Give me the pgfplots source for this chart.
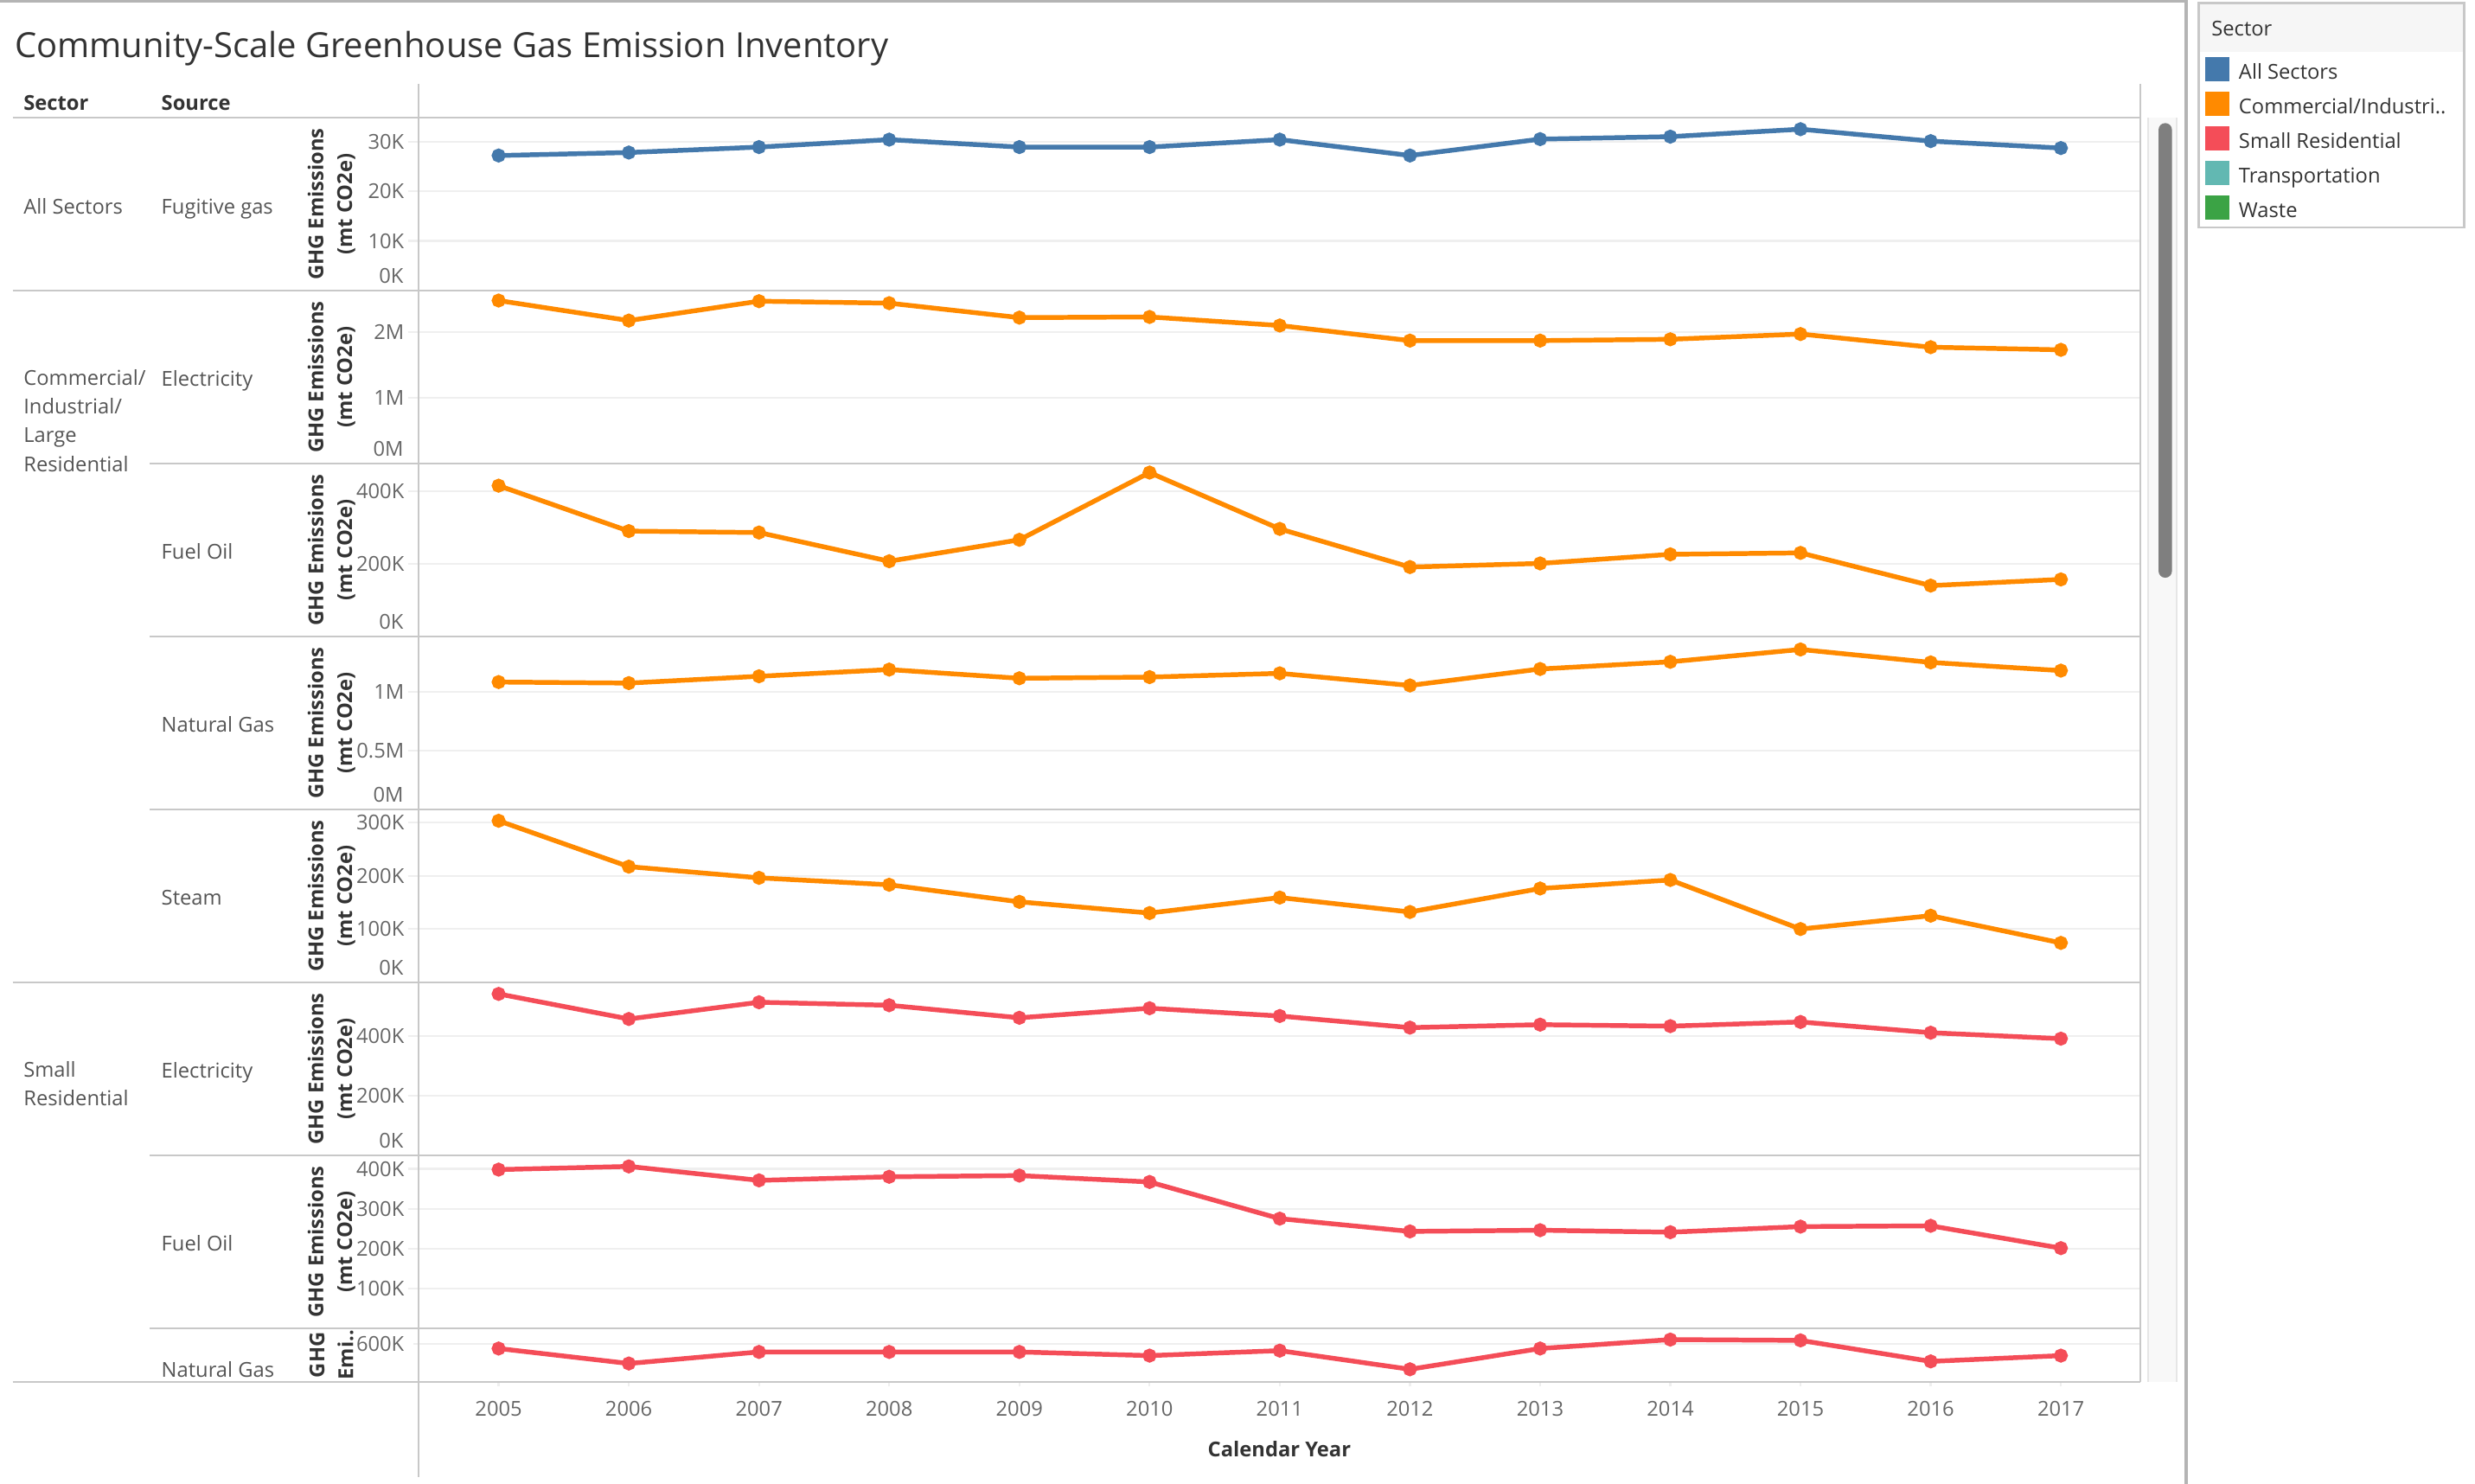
\documentclass[border=0pt]{standalone}
\usepackage{pgfplots}
\pgfplotsset{compat=1.18}
\usepackage{fontspec}
\setmainfont{Open Sans}

\definecolor{cAll}{HTML}{4479AC}
\definecolor{cCom}{HTML}{FF8A00}
\definecolor{cRes}{HTML}{F44D58}
\definecolor{cTra}{HTML}{62B8B2}
\definecolor{cWas}{HTML}{3BA345}
\definecolor{gridc}{HTML}{EFEFEF}
\definecolor{sepc}{HTML}{C8C8C8}
\definecolor{tickc}{HTML}{666666}
\definecolor{labc}{HTML}{555555}
\definecolor{darkc}{HTML}{333333}
\definecolor{framec}{HTML}{B4B4B4}
\definecolor{trackc}{HTML}{F8F8F8}
\definecolor{trackedge}{HTML}{E6E6E6}
\definecolor{thumbc}{HTML}{7F7F7F}
\definecolor{legheadc}{HTML}{F6F6F6}

\newcommand\lab{\fontsize{6.5pt}{9.1pt}\selectfont}
\newcommand\titlesize{\fontsize{10.95pt}{13pt}\selectfont}

\pgfplotsset{
  panel/.style={
    scale only axis, width=545.35pt, height=54.785pt,
    anchor=north west,
    xmin=2004.383, xmax=2017.607,
    axis line style={draw=none},
    xtick=\empty,
    ymajorgrids, grid style={draw=gridc, line width=0.6pt},
    tick pos=left, tick align=outside, major tick length=3.3pt,
    major tick style={draw=gridc, line width=0.6pt},
    yticklabel style={font=\lab, text=tickc, inner sep=0pt, anchor=east, xshift=-1pt},
    scaled y ticks=false,
  },
  series/.style={color=#1, line width=1.5pt, mark=*, mark size=1.45pt, mark options={solid}},
}

\begin{document}
\begin{tikzpicture}
\path[use as bounding box] (0pt,0pt) rectangle (784pt,-470pt);

% All Sectors / Fugitive gas
\begin{axis}[panel, at={(132.5pt,-37.25pt)}, ymin=0, ymax=34840,
  ytick={0,10000,20000,30000}, yticklabels={,10K,20K,30K}]
\addplot[series=cAll] coordinates {(2005,27200) (2006,27800) (2007,28900) (2008,30400) (2009,28900) (2010,28900) (2011,30400) (2012,27200) (2013,30500) (2014,31000) (2015,32500) (2016,30100) (2017,28700)};
\end{axis}

% Commercial / Electricity
\begin{axis}[panel, at={(132.5pt,-92.035pt)}, ymin=0, ymax=2632000,
  ytick={0,1000000,2000000}, yticklabels={,1M,2M}]
\addplot[series=cCom] coordinates {(2005,2480000) (2006,2175000) (2007,2470000) (2008,2440000) (2009,2220000) (2010,2230000) (2011,2100000) (2012,1870000) (2013,1870000) (2014,1890000) (2015,1970000) (2016,1770000) (2017,1730000)};
\end{axis}

% Commercial / Fuel Oil
\begin{axis}[panel, at={(132.5pt,-146.82pt)}, ymin=0, ymax=476000,
  ytick={0,200000,400000}, yticklabels={,200K,400K}]
\addplot[series=cCom] coordinates {(2005,415000) (2006,290000) (2007,286000) (2008,207000) (2009,266000) (2010,451000) (2011,296000) (2012,191000) (2013,201000) (2014,226000) (2015,230000) (2016,140000) (2017,157000)};
\end{axis}

% Commercial / Natural Gas
\begin{axis}[panel, at={(132.5pt,-201.605pt)}, ymin=0, ymax=1470600,
  ytick={0,500000,1000000}, yticklabels={,0.5M,1M}]
\addplot[series=cCom] coordinates {(2005,1083000) (2006,1074000) (2007,1132000) (2008,1189000) (2009,1115000) (2010,1125000) (2011,1157000) (2012,1054000) (2013,1194000) (2014,1255000) (2015,1360000) (2016,1250000) (2017,1180000)};
\end{axis}

% Commercial / Steam
\begin{axis}[panel, at={(132.5pt,-256.39pt)}, ymin=0, ymax=324300,
  ytick={0,100000,200000,300000}, yticklabels={,100K,200K,300K}]
\addplot[series=cCom] coordinates {(2005,303000) (2006,217000) (2007,196000) (2008,183000) (2009,151000) (2010,130000) (2011,159000) (2012,132000) (2013,176000) (2014,192000) (2015,100000) (2016,125000) (2017,74000)};
\end{axis}

% Small Residential / Electricity
\begin{axis}[panel, at={(132.5pt,-311.175pt)}, ymin=0, ymax=579700,
  ytick={0,200000,400000}, yticklabels={,200K,400K}]
\addplot[series=cRes] coordinates {(2005,541000) (2006,457000) (2007,513000) (2008,503000) (2009,461000) (2010,493000) (2011,467000) (2012,428000) (2013,438000) (2014,433000) (2015,447000) (2016,411000) (2017,391000)};
\end{axis}

% Small Residential / Fuel Oil
\begin{axis}[panel, at={(132.5pt,-365.96pt)}, ymin=0, ymax=433800,
  ytick={100000,200000,300000,400000}, yticklabels={100K,200K,300K,400K}]
\addplot[series=cRes] coordinates {(2005,398000) (2006,406000) (2007,371000) (2008,380000) (2009,383000) (2010,367000) (2011,275000) (2012,243000) (2013,246000) (2014,241000) (2015,255000) (2016,257000) (2017,201000)};
\end{axis}

% Small Residential / Natural Gas (scrolled, top part only)
\begin{axis}[panel, at={(132.5pt,-420.745pt)}, height=16.9pt, ymin=456000, ymax=659000,
  ytick={600000}, yticklabels={600K},
  xtick={2005,2006,...,2017},
  xticklabels={2005,2006,2007,2008,2009,2010,2011,2012,2013,2014,2015,2016,2017},
  minor x tick num=3, major tick length=1.6pt, minor tick length=1.6pt,
  minor tick style={draw=gridc, line width=0.6pt},
  yticklabel style={xshift=-1.7pt},
  xticklabel style={font=\lab, text=tickc, inner sep=0pt, anchor=center, yshift=-7.1pt}]
\addplot[series=cRes] coordinates {(2005,582000) (2006,525000) (2007,569000) (2008,569000) (2009,569000) (2010,555000) (2011,574000) (2012,503000) (2013,582000) (2014,616000) (2015,613000) (2016,533000) (2017,555000)};
\end{axis}

\begin{scope}[x=0.5pt,y=-0.5pt]
  % dashboard frame
  \draw[framec, line width=0.9pt] (0,0.6) -- (1385,0.6);
  \draw[framec, line width=0.9pt] (1385,0) -- (1385,940);

  % title
  \node[anchor=base west, inner sep=0pt, font=\titlesize, text=darkc] at (9,36.5)
    {Community-Scale Greenhouse Gas Emission Inventory};

  % table header
  \node[anchor=base west, inner sep=0pt, font=\lab\bfseries, text=darkc] at (14.6,70) {Sector};
  \node[anchor=base west, inner sep=0pt, font=\lab\bfseries, text=darkc] at (101.9,70) {Source};

  % table rules
  \begin{scope}[sepc, line width=0.55pt]
    \draw (8,74.5) -- (1356,74.5);
    \draw (8,184.07) -- (1356,184.07);
    \draw (95,293.64) -- (1356,293.64);
    \draw (95,403.21) -- (1356,403.21);
    \draw (95,512.78) -- (1356,512.78);
    \draw (8,622.35) -- (1356,622.35);
    \draw (95,731.92) -- (1356,731.92);
    \draw (95,841.49) -- (1356,841.49);
    \draw (8,875.3) -- (1356,875.3);
    \draw (265,53) -- (265,936);
    \draw (1356,53) -- (1356,875.3);
  \end{scope}

  % zero labels, lifted into each pane
  \begin{scope}[every node/.style={anchor=east, inner sep=0pt, font=\lab, text=tickc}]
    \node at (256,174.6) {0K};
    \node at (256,284.1) {0M};
    \node at (256,393.7) {0K};
    \node at (256,503.3) {0M};
    \node at (256,612.9) {0K};
    \node at (256,722.4) {0K};
  \end{scope}

  % sector labels
  \begin{scope}[every node/.style={anchor=mid west, inner sep=0pt, font=\lab, text=labc}]
    \node at (14.6,130) {All Sectors};
    \node at (14.6,238.5) {Commercial/};
    \node at (14.6,256.8) {Industrial/};
    \node at (14.6,275.1) {Large};
    \node at (14.6,293.4) {Residential};
    \node at (14.6,677) {Small};
    \node at (14.6,695.3) {Residential};
    % source labels
    \node at (101.9,130) {Fugitive gas};
    \node at (101.9,239.5) {Electricity};
    \node at (101.9,349) {Fuel Oil};
    \node at (101.9,458.6) {Natural Gas};
    \node at (101.9,568.2) {Steam};
    \node at (101.9,677.8) {Electricity};
    \node at (101.9,787.3) {Fuel Oil};
    \node at (101.9,867) {Natural Gas};
  \end{scope}

  % value axis titles
  \begin{scope}[every node/.style={rotate=90, align=center, inner sep=0pt, font=\lab\bfseries, text=darkc}]
    \node at (210,129.3) {GHG Emissions\\(mt CO2e)};
    \node at (210,238.9) {GHG Emissions\\(mt CO2e)};
    \node at (210,348.4) {GHG Emissions\\(mt CO2e)};
    \node at (210,458.0) {GHG Emissions\\(mt CO2e)};
    \node at (210,567.6) {GHG Emissions\\(mt CO2e)};
    \node at (210,677.1) {GHG Emissions\\(mt CO2e)};
    \node at (210,786.7) {GHG Emissions\\(mt CO2e)};
    \node at (210,858.4) {GHG\\Emi..};
  \end{scope}

  % category axis title
  \node[inner sep=0pt, font=\lab\bfseries, text=darkc] at (810.5,918) {Calendar Year};

  % scroll bar
  \fill[trackc] (1361,74.5) rectangle (1379,875.3);
  \draw[trackedge, line width=0.5pt] (1361,74.5) -- (1361,875.3) (1379,74.5) -- (1379,875.3);
  \fill[thumbc, rounded corners=2.1pt] (1367.5,78) rectangle (1376,366);

  % colour legend
  \fill[legheadc] (1393,2) rectangle (1561,33);
  \draw[sepc, line width=0.7pt] (1393,2) rectangle (1561,144);
  \node[anchor=mid west, inner sep=0pt, font=\lab, text=darkc] at (1400.7,17.3) {Sector};
  \begin{scope}[every node/.style={anchor=mid west, inner sep=0pt, font=\lab, text=darkc}]
    \fill[cAll] (1397,36) rectangle (1412.5,51.5);
    \node at (1418,44.6) {All Sectors};
    \fill[cCom] (1397,57.9) rectangle (1412.5,73.4);
    \node at (1418,66.5) {Commercial/Industri..};
    \fill[cRes] (1397,79.8) rectangle (1412.5,95.3);
    \node at (1418,88.4) {Small Residential};
    \fill[cTra] (1397,101.7) rectangle (1412.5,117.2);
    \node at (1418,110.3) {Transportation};
    \fill[cWas] (1397,123.6) rectangle (1412.5,139.1);
    \node at (1418,132.2) {Waste};
  \end{scope}
\end{scope}
\end{tikzpicture}
\end{document}
